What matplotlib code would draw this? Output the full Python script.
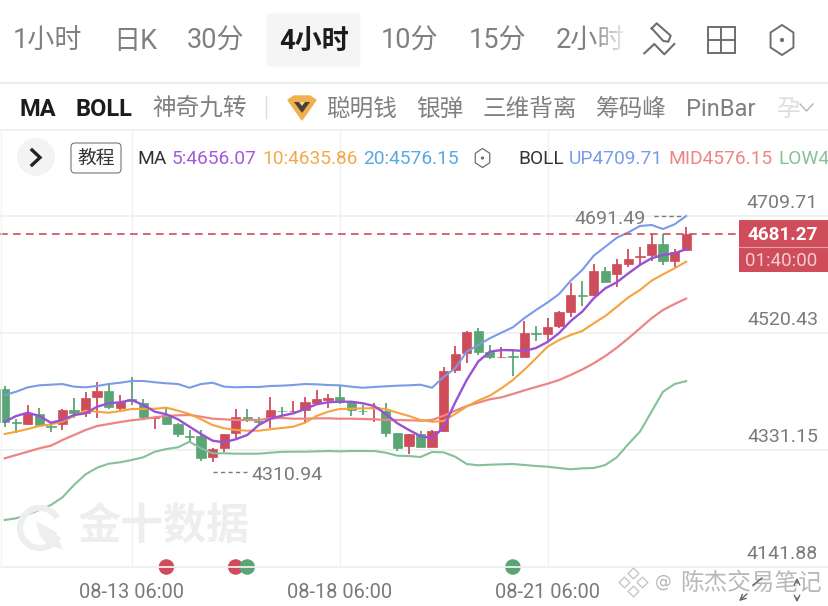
import numpy as np
import matplotlib
matplotlib.use('Agg')
from matplotlib import pyplot as plt
from matplotlib.patches import Rectangle, Circle, Polygon, FancyBboxPatch, Arc

plt.rcParams['font.family'] = ['Roboto', 'Noto Sans CJK SC', 'DejaVu Sans']

# K线数据 (4小时)
opens = [4429.4, 4376.0, 4373.2, 4388.9, 4370.5, 4373.2, 4395.9, 4391.5, 4416.9, 4427.1,
         4399.6, 4413.2, 4407.7, 4383.0, 4387.8, 4373.2, 4353.8, 4353.8, 4319.4, 4334.9,
         4358.2, 4384.1, 4378.1, 4382.4, 4394.8, 4393.5, 4395.9, 4407.7, 4412.1, 4417.4,
         4408.4, 4394.8, 4399.0, 4394.3, 4358.2, 4337.7, 4356.6, 4336.5, 4361.9, 4460.6,
         4488.6, 4524.2, 4490.2, 4481.0, 4483.3, 4482.1, 4521.0, 4518.9, 4531.8, 4554.0,
         4581.9, 4581.4, 4620.3, 4615.9, 4632.1, 4643.5, 4646.6, 4664.4, 4636.9, 4654.7]
highs = [4434.7, 4380.8, 4404.0, 4398.6, 4374.3, 4397.0, 4415.8, 4424.5, 4441.2, 4439.1,
         4420.2, 4449.8, 4414.2, 4384.5, 4401.2, 4374.3, 4363.5, 4363.5, 4333.9, 4357.5,
         4397.0, 4397.0, 4384.1, 4416.4, 4401.2, 4410.9, 4416.4, 4428.3, 4421.8, 4435.2,
         4409.3, 4404.0, 4406.7, 4406.7, 4359.2, 4356.6, 4362.4, 4363.5, 4466.0, 4499.4,
         4524.2, 4528.1, 4501.1, 4498.3, 4494.1, 4540.4, 4532.3, 4544.2, 4556.5, 4601.8,
         4604.6, 4632.1, 4627.7, 4640.2, 4656.4, 4660.0, 4680.6, 4680.2, 4655.9, 4691.49]
lows = [4368.9, 4358.2, 4371.6, 4368.9, 4360.8, 4363.5, 4382.4, 4385.0, 4382.4, 4397.0,
        4395.9, 4404.0, 4382.4, 4364.7, 4371.6, 4351.7, 4344.1, 4313.4, 4310.94, 4328.4,
        4350.1, 4377.0, 4373.2, 4367.2, 4385.0, 4393.1, 4377.0, 4405.6, 4398.6, 4405.6,
        4386.2, 4387.8, 4377.0, 4352.7, 4330.1, 4324.7, 4335.5, 4335.5, 4360.8, 4456.3,
        4472.4, 4484.9, 4477.9, 4479.5, 4450.9, 4481.2, 4508.0, 4508.0, 4528.1, 4545.9,
        4564.1, 4580.3, 4603.4, 4595.4, 4627.7, 4630.5, 4637.4, 4630.5, 4626.8, 4653.1]
closes = [4376.0, 4374.6, 4390.5, 4371.1, 4369.0, 4395.9, 4391.5, 4415.8, 4427.1, 4400.3,
          4409.3, 4410.9, 4384.1, 4384.1, 4373.2, 4356.6, 4352.5, 4318.7, 4333.3, 4357.1,
          4384.1, 4379.7, 4377.0, 4395.9, 4393.5, 4394.8, 4408.4, 4413.2, 4414.8, 4408.4,
          4395.9, 4393.5, 4400.3, 4358.2, 4334.9, 4356.6, 4336.5, 4362.4, 4459.5, 4486.5,
          4522.6, 4490.2, 4481.2, 4482.1, 4482.0, 4520.0, 4519.5, 4530.7, 4554.0, 4581.9,
          4580.5, 4620.8, 4603.4, 4632.1, 4640.7, 4645.0, 4664.4, 4636.9, 4651.0, 4681.27]

# 指标线
boll_up = [4420.1, 4425.5, 4432.6, 4435.8, 4436.8, 4437.9, 4433.6, 4432.6, 4434.7, 4437.9,
           4440.0, 4442.8, 4442.8, 4440.7, 4439.1, 4437.9, 4431.9, 4437.9, 4440.0, 4433.6,
           4432.6, 4433.1, 4433.1, 4434.7, 4435.2, 4436.3, 4437.9, 4437.4, 4436.3, 4435.8,
           4433.6, 4431.9, 4433.1, 4434.2, 4435.2, 4435.8, 4436.8, 4431.9, 4449.3, 4463.3,
           4490.2, 4501.1, 4511.9, 4520.9, 4529.7, 4544.7, 4557.6, 4569.8, 4583.5, 4605.0,
           4622.3, 4645.5, 4660.0, 4674.6, 4683.3, 4693.5, 4695.2, 4688.7, 4696.3, 4709.71]
ma5 = [4376.9, 4386.2, 4391.5, 4386.2, 4375.3, 4379.7, 4387.8, 4390.5, 4401.2, 4406.7,
       4408.4, 4412.0, 4404.0, 4393.1, 4388.9, 4380.8, 4368.9, 4357.0, 4346.2, 4343.6,
       4348.5, 4355.4, 4371.6, 4381.6, 4386.7, 4390.5, 4397.5, 4405.1, 4408.4, 4409.3,
       4409.3, 4406.7, 4402.3, 4389.4, 4374.3, 4363.5, 4353.8, 4350.1, 4367.9, 4408.0,
       4444.4, 4474.3, 4490.2, 4492.9, 4492.5, 4491.3, 4496.2, 4505.9, 4520.4, 4539.8,
       4554.9, 4576.6, 4592.8, 4602.5, 4617.0, 4630.5, 4641.3, 4646.6, 4649.4, 4656.07]
ma10 = [4357.0, 4360.8, 4365.1, 4370.0, 4372.7, 4376.9, 4386.2, 4394.8, 4393.1, 4391.5,
        4394.2, 4397.5, 4397.5, 4397.9, 4399.6, 4394.8, 4389.4, 4380.8, 4371.6, 4366.3,
        4363.5, 4362.4, 4362.4, 4364.7, 4366.7, 4368.9, 4375.3, 4386.2, 4393.1, 4397.5,
        4397.9, 4398.6, 4398.6, 4397.5, 4391.5, 4386.2, 4379.7, 4376.9, 4378.1, 4389.4,
        4401.5, 4411.2, 4419.0, 4430.9, 4444.4, 4461.2, 4479.5, 4498.3, 4509.1, 4517.2,
        4523.7, 4536.1, 4547.9, 4562.9, 4578.2, 4590.0, 4605.0, 4615.4, 4625.1, 4635.86]
boll_mid = [4317.7, 4323.1, 4328.4, 4333.9, 4338.1, 4347.3, 4355.4, 4363.5, 4370.0, 4373.2,
            4376.4, 4379.2, 4381.3, 4384.1, 4386.2, 4387.3, 4387.8, 4385.0, 4381.8, 4380.8,
            4379.7, 4379.7, 4379.7, 4382.4, 4382.9, 4381.8, 4381.8, 4382.4, 4382.4, 4381.8,
            4381.8, 4381.3, 4380.8, 4379.7, 4379.7, 4379.2, 4378.6, 4379.7, 4386.7, 4394.7,
            4402.3, 4407.7, 4413.2, 4416.4, 4421.8, 4427.7, 4433.1, 4438.4, 4444.4, 4452.5,
            4461.4, 4471.4, 4483.2, 4496.7, 4511.9, 4528.0, 4544.2, 4557.7, 4567.4, 4576.15]
boll_low = [4217.9, 4220.7, 4227.1, 4234.1, 4242.2, 4254.6, 4274.5, 4291.8, 4302.5, 4309.0,
            4311.3, 4315.0, 4319.4, 4328.4, 4332.8, 4335.5, 4344.6, 4333.9, 4325.8, 4325.8,
            4325.2, 4325.2, 4325.2, 4326.8, 4328.2, 4328.4, 4328.4, 4329.0, 4329.5, 4329.0,
            4329.5, 4329.5, 4329.5, 4326.8, 4321.9, 4321.4, 4319.8, 4327.9, 4327.4, 4320.3,
            4308.5, 4306.4, 4307.4, 4308.0, 4308.5, 4306.9, 4305.3, 4304.1, 4302.0, 4299.9,
            4301.5, 4302.0, 4306.9, 4319.4, 4340.9, 4360.8, 4393.1, 4425.5, 4437.9, 4442.59]

price_ticks = [4709.71, 4520.43, 4331.15, 4141.88]
time_idx = [11, 29, 47]
time_labels = ['08-13 06:00', '08-18 06:00', '08-21 06:00']
signal_idx = [14, 20, 21, 44]
signal_up = [True, True, False, False]
last_price = 4681.27

tabs = ['1小时', '日K', '30分', '4小时', '10分', '15分', '2小时']
tab_x = [13, 113, 187, 279, 381, 469, 556]
indicators = ['神奇九转', '聪明钱', '银弹', '三维背离', '筹码峰', 'PinBar']
indicator_x = [152, 326, 416, 483, 596, 686]

RED = '#cf4d5b'
GREEN = '#5aa574'
GRAY = '#7a7a7a'
GRID = '#f0f0f0'

fig = plt.figure(figsize=(8.29, 6.06), dpi=100)
ax = fig.add_axes([0, 0, 1, 1])
# 1根K线约11.55像素, 1像素约1.61778价格
ax.set_xlim(-4.7 / 11.55, (829 - 4.7) / 11.55)
ax.set_ylim(5059.16 - 1.61778 * 606, 5059.16)
ax.axis('off')

# 网格
for p in price_ticks:
    ax.axhline(p, color=GRID, lw=1.3, zorder=1)
for t in time_idx:
    ax.plot([t, t], [price_ticks[-1], 4849], color=GRID, lw=1, zorder=1)

# 蜡烛
o = np.array(opens)
c = np.array(closes)
x = np.arange(len(o))
cols = [RED if c[i] >= o[i] else GREEN for i in x]
ax.vlines(x, lows, highs, colors=cols, lw=1.3, zorder=3)
ax.bar(x, np.abs(c - o), bottom=np.minimum(o, c), width=0.8, color=cols,
       edgecolor=cols, lw=0.5, zorder=3)

# 均线 / 布林线
ax.plot(x, boll_low, color='#86c09a', lw=1.5, zorder=4)
ax.plot(x, boll_mid, color='#ee8585', lw=1.6, zorder=4)
ax.plot(x, boll_up, color='#7b9be8', lw=1.5, zorder=4)
ax.plot(x, ma10, color='#f5a33d', lw=1.5, zorder=4)
ax.plot(x, ma5, color='#9b51d6', lw=1.7, zorder=5)

# 当前价虚线
ax.plot([-0.4, 63.6], [last_price, last_price], color=RED, lw=1.2, dashes=(4.6, 3.2), zorder=5)

# 信号点
ax.scatter(np.array(signal_idx), [price_ticks[-1]] * 4, s=125, zorder=6, lw=0,
           c=[RED if u else GREEN for u in signal_up])

# UI层, 坐标就是像素
ui = fig.add_axes([0, 0, 1, 1])
ui.set_xlim(0, 829)
ui.set_ylim(606, 0)
ui.axis('off')
ui.patch.set_alpha(0)

# 水印
ui.text(77, 527, '金十数据', fontsize=31, color='#eeeeee', fontweight='bold',
        va='center', family=['Noto Sans CJK SC'], zorder=0)
ui.add_patch(Arc((40, 528), 40, 40, theta1=25, theta2=330, color='#eeeeee', lw=4.5, zorder=0))
ui.add_patch(Polygon([(36, 521), (56, 532), (63, 550), (48, 545), (40, 536)], color='#eeeeee', lw=0, zorder=0))

# 顶部分隔线
ui.plot([0, 829], [82.5, 82.5], color='#e8e8e8', lw=1.2)
ui.plot([0, 829], [130, 130], color='#ececec', lw=1.2)
ui.plot([1.5, 1.5], [130, 567], color='#f4f4f4', lw=1)

# 周期tab
ui.add_patch(FancyBboxPatch((268, 15), 91, 50, boxstyle='round,pad=0,rounding_size=2',
                            fc='#f5f5f5', ec='#f5f5f5', lw=2))
for i in range(len(tabs)):
    if tabs[i] == '4小时':
        ui.text(tab_x[i], 41.5, tabs[i], fontsize=19.5, color='#1c1c1c', fontweight='bold', va='center')
    else:
        ui.text(tab_x[i], 41.5, tabs[i], fontsize=19.5, color='#808080', va='center')
# 2小时 右边渐隐
fade = np.ones((1, 40, 4))
fade[0, :, 3] = np.linspace(0, 1, 40)
ui.imshow(fade, extent=(590, 630, 60, 20), aspect='auto', zorder=5)
ui.set_xlim(0, 829)
ui.set_ylim(606, 0)

# 画线工具图标
ui.plot([651.7, 656.7, 670.7, 668.3, 663.3, 651.7], [28.3, 23.3, 35.7, 41.7, 41, 28.3], color='#6e6e6e', lw=1.5)
ui.plot([644.3, 654.3, 664.3, 674.3], [53.3, 44, 54.3, 44], color='#6e6e6e', lw=1.5)
# 布局图标
ui.add_patch(Rectangle((708, 27), 27, 26, fc='none', ec='#6e6e6e', lw=1.4))
ui.plot([721.5, 721.5], [27, 53], color='#6e6e6e', lw=1.4)
ui.plot([708, 735], [40, 40], color='#6e6e6e', lw=1.4)


def hexagon(cx, cy, r, lw):
    ang = np.radians(np.arange(6) * 60 + 90)
    ui.add_patch(Polygon(np.c_[cx + r * 0.88 * np.cos(ang), cy + r * np.sin(ang)], fc='none',
                         ec='#6e6e6e', lw=lw, joinstyle='round'))
    ui.add_patch(Circle((cx, cy), lw, color='#6e6e6e'))


hexagon(782, 40, 15, 1.4)
hexagon(482.5, 158, 9.5, 0.9)

# 第二行
ui.text(20, 109.5, 'MA', fontsize=17, fontweight='bold', color='#1c1c1c', va='center')
ui.text(76, 109.5, 'BOLL', fontsize=17, fontweight='bold', color='#1c1c1c', va='center')
for i in range(len(indicators)):
    ui.text(indicator_x[i], 109.5, indicators[i], fontsize=17, color='#808080', va='center')
ui.text(777, 109.5, '孕', fontsize=17, color='#dcdcdc', va='center')
ui.add_patch(Rectangle((790, 95), 39, 28, fc='white', lw=0, alpha=0.7))
ui.plot([800, 806.5, 813], [104, 111, 104], color='#b5b5b5', lw=1)
ui.plot([266, 266], [96, 118], color='#dddddd', lw=1)
# 聪明钱图标
ui.add_patch(Polygon([(288, 100), (294, 96), (310, 96), (316, 100), (302, 120)],
                     fc='#f0b050', ec='#f0b050', lw=1))
ui.add_patch(Polygon([(294, 102), (310, 102), (302, 113)], fc='#4a4036', lw=0))
ui.add_patch(Polygon([(299, 102), (305, 102), (302, 106)], fc='#f7d9a0', lw=0))

# 第三行
ui.add_patch(Circle((36, 157), 19, color='#f3f3f3', lw=0))
ui.plot([32, 40, 32], [150, 157.5, 165], color='#222222', lw=2.4, solid_joinstyle='miter')
ui.add_patch(FancyBboxPatch((71, 143), 50, 30, boxstyle='round,pad=0,rounding_size=4',
                            fc='white', ec='#777777', lw=0.8))
ui.text(96, 159, '教程', fontsize=13.5, color='#333333', ha='center', va='center')
legend_items = [(137, 'MA', '#333333'), (172, '5:4656.07', '#a45ad8'), (262, '10:4635.86', '#f2a94e'),
                (363, '20:4576.15', '#5aa8e0'), (518, 'BOLL', '#333333'), (569, 'UP4709.71', '#7b9be8'),
                (668, 'MID4576.15', '#ee8585'), (778, 'LOW4', '#86c09a')]
for lx, s, col in legend_items:
    ui.text(lx, 159, s, fontsize=13.8, color=col, va='center')

# 价格刻度
label_y = [203, 320, 437, 554]
for p, ly in zip(price_ticks, label_y):
    ui.text(818, ly, '%.2f' % p, fontsize=14, color=GRAY, ha='right', va='center')

# 当前价框
ui.add_patch(Rectangle((739, 220), 89, 52, fc=RED, lw=0))
ui.plot([739, 828], [247, 247], color='#e5a0a8', lw=0.8)
ui.text(818, 235, '%.2f' % last_price, fontsize=13.6, color='white', fontweight='bold', ha='right', va='center')
ui.text(817, 261.5, '01:40:00', fontsize=13.5, color='#f2ccd0', ha='right', va='center')

# 最高最低价标注
ui.text(645.5, 219, '%.2f' % max(highs), fontsize=14, color=GRAY, ha='right', va='center')
ui.plot([654, 681], [216, 216], color=GRAY, lw=1, dashes=(3, 2.4))
ui.text(251, 475, '%.2f' % min(lows), fontsize=14, color=GRAY, va='center')
ui.plot([213, 247], [472, 472], color=GRAY, lw=1, dashes=(3, 2.4))

# 时间轴
ui.plot([0, 829], [567, 567], color=GRID, lw=1.3, zorder=1)
for t, s in zip(time_idx, time_labels):
    ui.text(4.7 + 11.55 * t - 0.5, 592, s, fontsize=14.4, color=GRAY, ha='center', va='center')

# 右下角来源水印
for dx, dy in [(0, -9), (-9, 0), (9, 0), (0, 9)]:
    ui.scatter(633 + dx, 582 + dy, marker='D', s=30, fc='white', ec='#c8c8c8', lw=1, zorder=6)
ui.text(655, 582, '@', fontsize=12, color='#b5b5b5', va='center', family=['DejaVu Sans'], zorder=6)
ui.text(680, 583, '陈杰交易笔记', fontsize=17, color='#b8b8b8', va='center',
        family=['Noto Sans CJK SC', 'DejaVu Sans'], zorder=6)
# 右下角展开箭头
ui.plot([753, 762], [585, 578], color='#666666', lw=1, zorder=6)
ui.annotate('', xy=(737, 603), xytext=(749, 592), arrowprops=dict(arrowstyle='->', color='#666666', lw=1), zorder=6)
ui.annotate('', xy=(797, 575), xytext=(797, 586), arrowprops=dict(arrowstyle='->', color='#666666', lw=1), zorder=6)
ui.annotate('', xy=(797, 605), xytext=(797, 595), arrowprops=dict(arrowstyle='->', color='#666666', lw=1), zorder=6)

plt.savefig('out.png', dpi=100)
plt.close()
